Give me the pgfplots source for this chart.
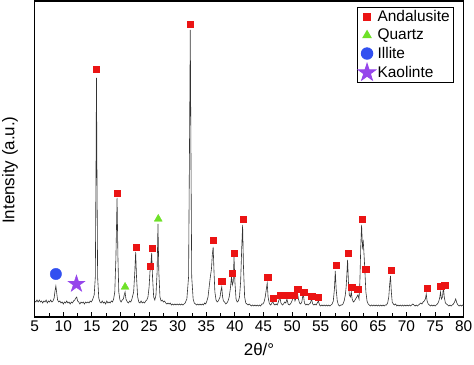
\documentclass[border=0pt]{standalone}
\usepackage{fontspec}
\setmainfont{Liberation Sans}
\usepackage{pgfplots}
\pgfplotsset{compat=1.18}
\usetikzlibrary{plotmarks}
\definecolor{andred}{RGB}{235,20,20}
\definecolor{qgreen}{RGB}{110,225,40}
\definecolor{ilblue}{RGB}{50,80,240}
\definecolor{kpurple}{RGB}{150,70,235}
\pgfdeclareplotmark{fstar}{%
  \pgfpathmoveto{\pgfqpoint{0pt}{\pgfplotmarksize}}%
  \pgfpathlineto{\pgfqpoint{-0.2246\pgfplotmarksize}{0.309\pgfplotmarksize}}%
  \pgfpathlineto{\pgfqpoint{-0.951\pgfplotmarksize}{0.309\pgfplotmarksize}}%
  \pgfpathlineto{\pgfqpoint{-0.3633\pgfplotmarksize}{-0.118\pgfplotmarksize}}%
  \pgfpathlineto{\pgfqpoint{-0.588\pgfplotmarksize}{-0.809\pgfplotmarksize}}%
  \pgfpathlineto{\pgfqpoint{0pt}{-0.382\pgfplotmarksize}}%
  \pgfpathlineto{\pgfqpoint{0.588\pgfplotmarksize}{-0.809\pgfplotmarksize}}%
  \pgfpathlineto{\pgfqpoint{0.3633\pgfplotmarksize}{-0.118\pgfplotmarksize}}%
  \pgfpathlineto{\pgfqpoint{0.951\pgfplotmarksize}{0.309\pgfplotmarksize}}%
  \pgfpathlineto{\pgfqpoint{0.2246\pgfplotmarksize}{0.309\pgfplotmarksize}}%
  \pgfpathclose
  \pgfusepathqfillstroke}
\begin{document}
\begin{tikzpicture}
\begin{axis}[
  scale only axis,
  width=429bp, height=316bp,
  xmin=5, xmax=80, ymin=0, ymax=316,
  xtick={5,10,...,80},
  minor x tick num=1,
  ytick=\empty,
  tick align=inside,
  xtick pos=bottom,
  major tick length=5bp,
  minor tick length=3.5bp,
  every tick/.style={black, line width=0.9bp},
  axis line style={line width=1.4bp},
  /pgf/number format/assume math mode=true,
  ticklabel style={font=\fontsize{15.5}{18}\selectfont},
  xlabel={2θ/°},
  ylabel={Intensity (a.u.)},
  label style={font=\fontsize{17}{20}\selectfont},
  xlabel style={at={(axis description cs:0.523,-0.104)}, anchor=center},
  ylabel style={at={(axis description cs:-0.0576,0.465)}, anchor=center},
  legend style={at={(axis description cs:0.9767,0.982)}, anchor=north east,
    draw=black, line width=1bp, inner sep=1.5pt, row sep=1.8pt,
    font=\fontsize{15.5}{17}\selectfont, cells={anchor=west}},
  legend cell align=left,
]
\addplot[black!80, line width=0.6bp, mark=none, forget plot] coordinates {
(5.0,16) (5.2,15) (5.4,17) (5.6,15) (5.8,17) (6.0,15) (6.2,16) (6.4,14) (6.6,16) (6.8,15) (7.0,17) (7.2,14) (7.4,16) (7.6,15) (7.8,17) (8.0,15) (8.2,16) (8.4,19) (8.55,26) (8.7,31) (8.85,24) (9.0,17) (9.2,15) (9.4,16) (9.6,14) (9.8,15) (10.0,13) (10.2,15) (10.4,14) (10.6,16) (10.8,14) (11.0,15) (11.2,13) (11.4,15) (11.6,14) (11.8,16) (12.0,17) (12.2,19) (12.35,20) (12.5,16) (12.7,15) (12.9,13) (13.1,15) (13.3,14) (13.5,15) (13.7,13) (13.9,15) (14.1,14) (14.3,15) (14.5,14) (14.7,16) (14.9,15) (15.1,17) (15.4,22) (15.6,40) (15.72,150) (15.8,239) (15.88,150) (16.0,40) (16.2,19) (16.4,15) (16.6,14) (16.8,16) (17.0,14) (17.2,15) (17.4,13) (17.6,16) (17.8,14) (18.0,15) (18.2,14) (18.4,16) (18.6,15) (18.8,18) (19.0,25) (19.2,60) (19.4,119) (19.55,60) (19.7,25) (19.9,17) (20.1,15) (20.3,17) (20.5,18) (20.65,22) (20.8,25) (20.95,18) (21.2,15) (21.4,14) (21.6,16) (21.8,15) (22.0,18) (22.3,25) (22.5,45) (22.65,65) (22.8,40) (23.0,20) (23.2,15) (23.4,14) (23.6,16) (23.8,14) (24.0,15) (24.2,14) (24.4,16) (24.6,17) (24.8,20) (25.0,30) (25.15,45) (25.3,52) (25.45,64) (25.6,40) (25.8,20) (26.0,17) (26.2,22) (26.4,45) (26.55,93) (26.7,45) (26.9,20) (27.1,16) (27.3,17) (27.5,15) (27.7,16) (27.9,14) (28.1,13) (28.3,14) (28.5,13) (28.7,14) (28.9,12) (29.1,13) (29.3,12) (29.5,13) (29.7,12) (29.9,13) (30.1,12) (30.3,13) (30.5,12) (30.7,13) (30.9,12) (31.1,13) (31.3,14) (31.6,18) (31.9,40) (32.05,160) (32.2,287) (32.32,160) (32.45,40) (32.7,18) (32.9,14) (33.1,13) (33.3,12) (33.5,13) (33.7,12) (33.9,13) (34.1,12) (34.3,13) (34.5,12) (34.7,14) (34.9,13) (35.1,16) (35.3,20) (35.5,30) (35.7,40) (35.9,48) (36.05,62) (36.2,70) (36.35,45) (36.5,25) (36.7,17) (36.9,15) (37.1,16) (37.4,20) (37.55,26) (37.7,30) (37.85,20) (38.0,16) (38.2,15) (38.4,13) (38.6,14) (38.8,16) (39.0,20) (39.2,28) (39.4,40) (39.55,32) (39.7,35) (39.85,60) (40.0,35) (40.2,18) (40.4,15) (40.6,16) (40.8,20) (41.0,35) (41.2,70) (41.35,92) (41.5,50) (41.7,20) (41.9,14) (42.1,13) (42.3,12) (42.5,13) (42.7,12) (42.9,11) (43.1,12) (43.3,11) (43.5,12) (43.7,11) (43.9,12) (44.1,11) (44.3,12) (44.5,11) (44.7,13) (44.9,13) (45.1,15) (45.3,20) (45.5,28) (45.65,34) (45.8,20) (46.0,14) (46.2,12) (46.4,13) (46.6,16) (46.8,13) (47.0,12) (47.2,13) (47.4,12) (47.6,15) (47.85,20) (48.05,14) (48.3,12) (48.5,13) (48.7,15) (48.9,14) (49.1,18) (49.3,13) (49.5,12) (49.7,13) (49.9,15) (50.1,18) (50.3,22) (50.5,16) (50.7,19) (50.9,26) (51.1,18) (51.3,14) (51.5,13) (51.7,15) (51.95,24) (52.15,14) (52.4,12) (52.6,13) (52.8,12) (53.0,13) (53.2,14) (53.4,18) (53.6,13) (53.8,12) (54.0,13) (54.2,12) (54.4,14) (54.6,16) (54.8,12) (55.0,11) (55.2,12) (55.4,11) (55.6,12) (55.8,11) (56.0,12) (56.2,11) (56.4,12) (56.6,11) (56.8,12) (57.0,13) (57.2,16) (57.4,28) (57.55,46) (57.7,28) (57.9,16) (58.1,12) (58.3,11) (58.5,12) (58.7,12) (58.9,13) (59.1,16) (59.3,22) (59.45,30) (59.55,40) (59.7,57) (59.85,35) (60.0,22) (60.2,20) (60.35,25) (60.5,18) (60.7,15) (60.9,16) (61.1,18) (61.3,20) (61.5,22) (61.7,18) (61.85,35) (62.0,70) (62.15,92) (62.3,70) (62.45,75) (62.6,60) (62.75,43) (62.9,25) (63.1,16) (63.3,13) (63.5,12) (63.7,11) (63.9,12) (64.1,11) (64.3,12) (64.5,11) (64.7,12) (64.9,11) (65.1,12) (65.3,11) (65.5,12) (65.7,11) (65.9,12) (66.1,11) (66.3,12) (66.5,12) (66.7,14) (66.9,20) (67.05,32) (67.2,41) (67.35,25) (67.5,15) (67.7,13) (67.9,12) (68.1,13) (68.3,11) (68.5,12) (68.7,11) (68.9,12) (69.1,11) (69.3,12) (69.5,11) (69.7,12) (69.9,11) (70.1,12) (70.3,11) (70.5,12) (70.7,11) (70.9,12) (71.1,13) (71.3,12) (71.5,11) (71.7,12) (71.9,11) (72.1,12) (72.3,13) (72.5,14) (72.7,13) (72.9,15) (73.1,16) (73.3,18) (73.45,23) (73.6,16) (73.8,13) (74.0,12) (74.2,11) (74.4,12) (74.6,11) (74.8,12) (75.0,11) (75.2,12) (75.4,13) (75.6,15) (75.8,19) (75.95,25) (76.1,18) (76.3,20) (76.45,30) (76.6,20) (76.8,14) (77.0,13) (77.2,12) (77.4,11) (77.6,12) (77.8,11) (78.0,12) (78.2,13) (78.4,15) (78.6,18) (78.8,14) (79.0,12) (79.2,11) (79.4,12) (79.6,11) (79.8,12) (80.0,11)
};
\addplot[only marks, mark=square*, mark size=3.2bp, color=andred, mark options={draw=andred, fill=andred}] coordinates {
(15.8,248) (19.4,124) (22.7,70) (25.2,51) (25.5,69) (32.2,293) (36.2,77) (37.7,36) (39.5,44) (39.9,64) (41.4,98) (45.7,40) (46.7,19) (47.9,22) (49.1,22) (50.4,22) (51.0,28) (52.0,25) (53.4,21) (54.6,20) (57.7,52) (59.8,64) (60.4,30) (61.5,28) (62.3,98) (62.9,48) (67.3,47) (73.6,29) (76.0,31) (76.7,32)
};
\addlegendentry{Andalusite}
\addplot[only marks, mark=triangle*, mark size=4.6bp, color=qgreen, mark options={draw=qgreen, fill=qgreen}] coordinates {
(20.8,30) (26.6,98)
};
\addlegendentry{Quartz}
\addplot[only marks, mark=*, mark size=5.7bp, color=ilblue, mark options={draw=ilblue, fill=ilblue}] coordinates {
(8.7,43)
};
\addlegendentry{Illite}
\addplot[only marks, mark=fstar, mark size=9bp, color=kpurple, mark options={draw=kpurple, fill=kpurple}] coordinates {
(12.3,33)
};
\addlegendentry{Kaolinte}
\end{axis}
\pgfresetboundingbox
\path[use as bounding box] ([shift={(-34.7bp,-48bp)}]current axis.south west) rectangle ([shift={(10.3bp,1bp)}]current axis.north east);
\end{tikzpicture}
\end{document}
